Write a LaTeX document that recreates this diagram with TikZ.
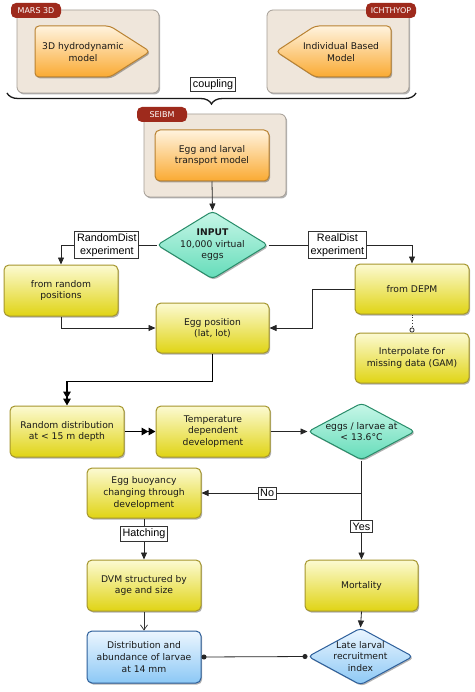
\documentclass[tikz,border=0pt]{standalone}
\usepackage{fontspec}
\setmainfont{DejaVu Sans}
\newfontfamily\lblfont{Liberation Sans}
\usetikzlibrary{arrows.meta,shapes.geometric,shadows,decorations.pathreplacing,calc}

\definecolor{ylwtop}{RGB}{252,250,210}
\definecolor{ylwbot}{RGB}{224,212,20}
\definecolor{ylwbd}{RGB}{165,150,45}
\definecolor{orgtop}{RGB}{255,243,222}
\definecolor{orgbot}{RGB}{250,170,50}
\definecolor{orgbd}{RGB}{185,130,50}
\definecolor{beige}{RGB}{239,230,219}
\definecolor{beigebd}{RGB}{165,158,150}
\definecolor{tagred}{RGB}{158,42,28}
\definecolor{grntop}{RGB}{200,247,232}
\definecolor{grnbot}{RGB}{100,220,185}
\definecolor{grnbd}{RGB}{40,140,105}
\definecolor{blutop}{RGB}{236,246,255}
\definecolor{blubot}{RGB}{140,200,245}
\definecolor{blubd}{RGB}{45,95,155}
\definecolor{txt}{RGB}{25,25,25}

\tikzset{
  shad/.style={drop shadow={shadow xshift=1.2pt,shadow yshift=-1.5pt,opacity=0.3,fill=black}},
  boxtext/.style={font=\fontsize{9.2}{11.6}\selectfont, text=txt, align=center},
  ybox/.style={shad, boxtext, draw=ylwbd, line width=1pt, rounded corners=5pt,
    top color=ylwtop, bottom color=ylwbot, minimum width=114pt, minimum height=51pt, inner sep=0pt},
  obox/.style={ybox, draw=orgbd, top color=orgtop, bottom color=orgbot},
  bbox/.style={ybox, draw=blubd, top color=blutop, bottom color=blubot},
  outerbox/.style={shad, draw=beigebd, line width=0.8pt, fill=beige, rounded corners=6pt,
    minimum width=142pt, minimum height=83pt, inner sep=0pt},
  tagbox/.style={fill=tagred, text=white, rounded corners=5pt, font=\fontsize{8}{9}\selectfont,
    minimum width=50pt, minimum height=15pt, inner sep=0pt},
  dia/.style={shape=diamond, shad, line width=1pt, rounded corners=4pt, inner sep=0pt},
  gdia/.style={dia, draw=grnbd, top color=grntop, bottom color=grnbot},
  bdia/.style={dia, draw=blubd, top color=blutop, bottom color=blubot},
  lbl/.style={draw=black!80, fill=white, line width=0.8pt, text=black,
    font=\lblfont\fontsize{10.8}{12.5}\selectfont, inner xsep=2.3pt, inner ysep=2.2pt, align=center},
  arr/.style={draw=black!85, line width=0.8pt, -{Triangle[length=7pt,width=6pt]}},
  thickarr/.style={draw=black, line width=1.6pt, -{Triangle[length=7pt,width=7.5pt]Triangle[length=7pt,width=7.5pt]}},
  openarr/.style={draw=black!80, line width=0.7pt, -{Straight Barb[length=5pt,width=7pt]}},
  dotline/.style={draw=black!80, line width=0.8pt, dotted, -{Circle[open,length=5pt,width=5pt]}},
  dotends/.style={draw=black!85, line width=0.8pt, {Circle[length=5pt,width=5pt]}-{Circle[length=5pt,width=5pt]}},
  penta/.style={shad, draw=orgbd, line width=1pt, top color=orgtop, bottom color=orgbot, rounded corners=4pt},
}

\begin{document}
\begin{tikzpicture}[x=1pt,y=-1pt]
\fill[white] (0,0) rectangle (474,692);
\useasboundingbox (0,0) rectangle (474,692);

% ---- top containers
\node[outerbox] (mars) at (88,51.5) {};
\node[outerbox] (ichthyop) at (338,51.5) {};
\path[penta] (35,26) -- (110,26) -- (150,51.5) -- (110,77) -- (35,77) -- cycle;
\path[penta] (391,26) -- (315,26) -- (276,51.5) -- (315,77) -- (391,77) -- cycle;
\node[boxtext] (hydro) at (83,52) {3D hydrodynamic\\model};
\node[boxtext] (ibm) at (341,52) {Individual Based\\Model};
\node[tagbox] (marstag) at (36,10.5) {MARS 3D};
\node[tagbox] (ichtag) at (391,10.5) {ICHTHYOP};

\node[lbl] (coupling) at (213,84.5) {coupling};
\draw[decorate, decoration={brace, mirror, amplitude=11pt}, line width=1.3pt, black!90] (7,93) -- (416,93);

\node[outerbox] (seibm) at (215,155.5) {};
\node[tagbox] (seibmtag) at (162,114.5) {SEIBM};
\node[obox] (transport) at (212,155.5) {Egg and larval\\transport model};

% ---- flow nodes
\node[gdia, minimum width=111pt, minimum height=68pt,
  label={[boxtext]center:{\textbf{INPUT}\\10,000 virtual\\eggs}}] (input) at (212.5,245) {};
\node[ybox] (randpos) at (61,290.5) {from random\\positions};
\node[ybox, minimum height=50pt] (depm) at (412,289) {from DEPM};
\node[ybox, minimum width=113pt, minimum height=50pt] (eggpos) at (212.5,328) {Egg position\\(lat, lot)};
\node[ybox, minimum height=50pt] (interp) at (412,358) {Interpolate for\\missing data (GAM)};
\node[ybox] (randdist) at (67,431.5) {Random distribution\\at \textless{} 15 m depth};
\node[ybox] (temp) at (213,431.5) {Temperature\\dependent\\development};
\node[gdia, minimum width=107pt, minimum height=57pt,
  label={[boxtext]center:{eggs / larvae at\\\textless{} 13.6°C}}] (cold) at (361.5,431.5) {};
\node[ybox, minimum height=50pt] (buoy) at (144,493) {Egg buoyancy\\changing through\\development};
\node[ybox] (dvm) at (144,585.5) {DVM structured by\\age and size};
\node[ybox, minimum width=113pt] (mort) at (361.5,585.5) {Mortality};
\node[bbox, minimum height=52pt] (distr) at (144,657) {Distribution and\\abundance of larvae\\at 14 mm};
\node[bdia, minimum width=105pt, minimum height=57pt,
  label={[boxtext]center:{Late larval\\recruitment\\index}}] (late) at (360.5,656.5) {};

% ---- connectors
\draw[arr] (transport.south) -- (input.north);
\draw[arr] (input.west) -| (randpos.north) node[lbl, pos=0.26] (rdlbl) {RandomDist\\experiment};
\draw[arr] (input.east) -| (depm.north) node[lbl, pos=0.24] (reallbl) {RealDist\\experiment};
\draw[arr] (randpos.south) |- (eggpos.west);
\draw[arr] (depm.west) -- ++(-42,0) |- (eggpos.east);
\draw[dotline] (depm.south) -- (interp.north);
\draw[thickarr] (eggpos.south) -- ++(0,28) -| (randdist.north);
\draw[thickarr] (randdist.east) -- (temp.west);
\draw[arr] (temp.east) -- (cold.west);
\draw[arr] (cold.south) -- (mort.north) node[lbl, pos=0.67] (yeslbl) {Yes};
\draw[arr] (cold.south |- buoy.east) -- (buoy.east) node[lbl, pos=0.59] (nolbl) {No};
\draw[arr] (buoy.south) -- (dvm.north) node[lbl, pos=0.37] (hatchlbl) {Hatching};
\draw[openarr] (dvm.south) -- (distr.north);
\draw[arr] (mort.south) -- (late.north);
\draw[dotends] (distr.east) -- (late.west);
\end{tikzpicture}
\end{document}
